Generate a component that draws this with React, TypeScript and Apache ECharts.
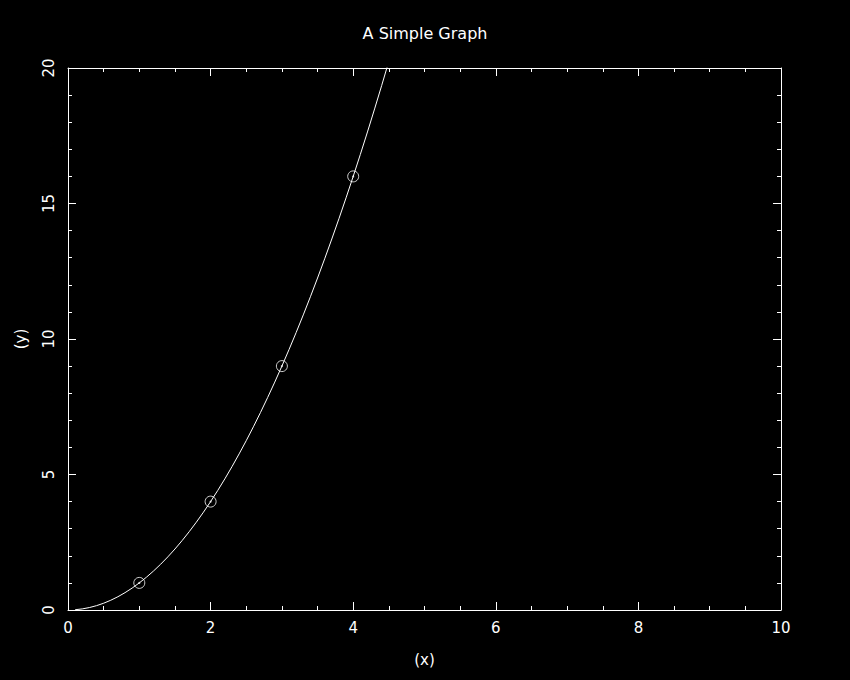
import React, { useEffect, useRef } from "react";
import * as echarts from "echarts";

const titleText = "A Simple Graph";
const xName = "(x)";
const yName = "(y)";

const curveX = [0.1, 0.2, 0.3, 0.4, 0.5, 0.6, 0.7, 0.8, 0.9, 1.0, 1.1, 1.2, 1.3, 1.4, 1.5, 1.6, 1.7, 1.8, 1.9, 2.0, 2.1, 2.2, 2.3, 2.4, 2.5, 2.6, 2.7, 2.8, 2.9, 3.0, 3.1, 3.2, 3.3, 3.4, 3.5, 3.6, 3.7, 3.8, 3.9, 4.0, 4.1, 4.2, 4.3, 4.4, 4.5];
const curveY = [0.01, 0.04, 0.09, 0.16, 0.25, 0.36, 0.49, 0.64, 0.81, 1.0, 1.21, 1.44, 1.69, 1.96, 2.25, 2.56, 2.89, 3.24, 3.61, 4.0, 4.41, 4.84, 5.29, 5.76, 6.25, 6.76, 7.29, 7.84, 8.41, 9.0, 9.61, 10.24, 10.89, 11.56, 12.25, 12.96, 13.69, 14.44, 15.21, 16.0, 16.81, 17.64, 18.49, 19.36, 20.25];

const pointX = [1, 2, 3, 4];
const pointY = [1, 4, 9, 16];

const FONT = "DejaVu Sans";
const FG = "#ffffff";

export default function App() {
  const ref = useRef<HTMLDivElement>(null);
  useEffect(() => {
    document.body.style.margin = "0";
    document.body.style.background = "#000";
    const chart = echarts.init(ref.current!, null, { renderer: "svg" });
    const lineStyle = { color: FG, width: 1 };
    const baseX = {
      type: "value" as const,
      min: 0,
      max: 10,
      interval: 2,
      splitLine: { show: false },
      axisLine: { show: true, onZero: false, lineStyle },
      axisTick: { show: true, inside: true, length: 8, lineStyle },
      minorTick: { show: true, splitNumber: 4, length: 4, lineStyle },
      minorSplitLine: { show: false },
    };
    const baseY = {
      type: "value" as const,
      min: 0,
      max: 20,
      interval: 5,
      splitLine: { show: false },
      axisLine: { show: true, onZero: false, lineStyle },
      axisTick: { show: true, inside: true, length: 8, lineStyle },
      minorTick: { show: true, splitNumber: 5, length: 4, lineStyle },
      minorSplitLine: { show: false },
    };
    chart.setOption({
      animation: false,
      backgroundColor: "#000",
      title: {
        text: titleText,
        left: "center",
        top: 20,
        textStyle: { color: FG, fontFamily: FONT, fontSize: 16, fontWeight: "normal" },
      },
      grid: { left: 68, right: 69, top: 68, bottom: 70 },
      xAxis: [
        {
          ...baseX,
          position: "bottom",
          name: xName,
          nameLocation: "middle",
          nameGap: 42,
          nameTextStyle: { color: FG, fontFamily: FONT, fontSize: 15 },
          axisLabel: { color: FG, fontFamily: FONT, fontSize: 15, margin: 10 },
        },
        {
          ...baseX,
          position: "top",
          axisLabel: { show: false },
        },
      ],
      yAxis: [
        {
          ...baseY,
          position: "left",
          name: yName,
          nameLocation: "middle",
          nameRotate: 90,
          nameGap: 40,
          nameTextStyle: { color: FG, fontFamily: FONT, fontSize: 15 },
          axisLabel: { color: FG, fontFamily: FONT, fontSize: 15, rotate: 90, margin: 12 },
        },
        {
          ...baseY,
          position: "right",
          axisLabel: { show: false },
        },
      ],
      series: [
        {
          type: "line",
          data: curveX.map((x, i) => [x, curveY[i]]),
          showSymbol: false,
          symbol: "none",
          clip: true,
          lineStyle: { color: FG, width: 1 },
          silent: true,
        },
        {
          type: "scatter",
          data: pointX.map((x, i) => [x, pointY[i]]),
          symbol: "circle",
          symbolSize: 11,
          itemStyle: { color: "transparent", borderColor: FG, borderWidth: 1 },
          silent: true,
        },
        {
          type: "scatter",
          data: pointX.map((x, i) => [x, pointY[i]]),
          symbol: "circle",
          symbolSize: 2,
          itemStyle: { color: FG },
          silent: true,
        },
      ],
    });
    return () => chart.dispose();
  }, []);
  return <div ref={ref} style={{ width: 850, height: 680, background: "#000" }} />;
}
